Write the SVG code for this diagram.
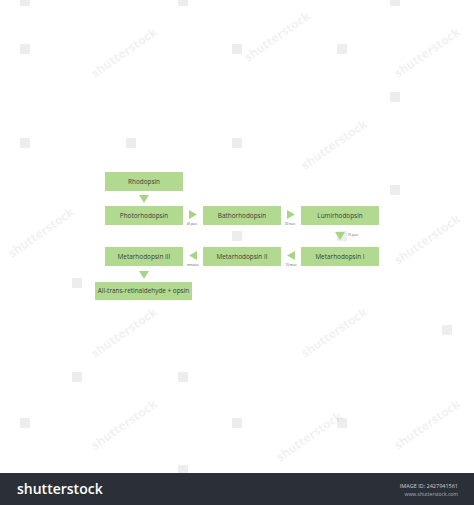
<svg xmlns="http://www.w3.org/2000/svg" width="474" height="505" viewBox="0 0 474 505">
<style>
.box{fill:#b1d98f}
.lbl{font-family:"Open Sans","Liberation Sans",sans-serif;font-size:6.4px;fill:#3a3a3a;text-anchor:middle}
.tm{font-family:"Open Sans","Liberation Sans",sans-serif;font-size:3px;fill:#555;text-anchor:middle}
.tri{fill:#a9d486}
.wm{font-family:"Open Sans","Liberation Sans",sans-serif;font-size:12px;font-weight:bold;fill:#000;opacity:0.05}
.sq{fill:#000;opacity:0.07}
</style>
<rect width="474" height="505" fill="#ffffff"/>
<g id="watermarks">
<text class="wm" transform="translate(95,78) rotate(-35)">shutterstock</text>
<text class="wm" transform="translate(248,62) rotate(-35)">shutterstock</text>
<text class="wm" transform="translate(398,78) rotate(-35)">shutterstock</text>
<text class="wm" transform="translate(305,170) rotate(-35)">shutterstock</text>
<text class="wm" transform="translate(12,258) rotate(-35)">shutterstock</text>
<text class="wm" transform="translate(398,265) rotate(-35)">shutterstock</text>
<text class="wm" transform="translate(95,358) rotate(-35)">shutterstock</text>
<text class="wm" transform="translate(305,358) rotate(-35)">shutterstock</text>
<text class="wm" transform="translate(95,450) rotate(-35)">shutterstock</text>
<text class="wm" transform="translate(280,462) rotate(-35)">shutterstock</text>
<text class="wm" transform="translate(398,450) rotate(-35)">shutterstock</text>
<rect class="sq" x="20" y="44" width="10" height="10"/>
<rect class="sq" x="232" y="44" width="10" height="10"/>
<rect class="sq" x="337" y="44" width="10" height="10"/>
<rect class="sq" x="126" y="138" width="10" height="10"/>
<rect class="sq" x="232" y="138" width="10" height="10"/>
<rect class="sq" x="390" y="92" width="10" height="10"/>
<rect class="sq" x="20" y="138" width="10" height="10"/>
<rect class="sq" x="390" y="185" width="10" height="10"/>
<rect class="sq" x="232" y="231" width="10" height="10"/>
<rect class="sq" x="337" y="231" width="10" height="10"/>
<rect class="sq" x="72" y="278" width="10" height="10"/>
<rect class="sq" x="442" y="325" width="10" height="10"/>
<rect class="sq" x="72" y="372" width="10" height="10"/>
<rect class="sq" x="178" y="372" width="10" height="10"/>
<rect class="sq" x="20" y="418" width="10" height="10"/>
<rect class="sq" x="232" y="418" width="10" height="10"/>
<rect class="sq" x="337" y="418" width="10" height="10"/>
<rect class="sq" x="178" y="465" width="10" height="8"/>
<rect class="sq" x="20" y="0" width="10" height="6"/>
<rect class="sq" x="178" y="0" width="10" height="6"/>
<rect class="sq" x="390" y="0" width="10" height="6"/>
</g>
<g id="connectors">
<polygon class="tri" points="139,195 149,195 144,203"/>
<polygon class="tri" points="189,210 197,214.5 189,219"/>
<text class="tm" x="192" y="225">45 psec</text>
<polygon class="tri" points="287,210 295,214.5 287,219"/>
<text class="tm" x="290" y="225">30 nsec</text>
<polygon class="tri" points="335,232 345,232 340,240"/>
<text class="tm" x="353" y="236">75 µsec</text>
<polygon class="tri" points="295,251 287,255.5 295,260"/>
<text class="tm" x="291" y="266">10 msec</text>
<polygon class="tri" points="197,251 189,255.5 197,260"/>
<text class="tm" x="193" y="266">minutes</text>
<polygon class="tri" points="139,271 149,271 144,279"/>
</g>
<g id="rhodopsin"><rect class="box" x="105" y="172" width="78" height="19"/><text class="lbl" x="144" y="183.8">Rhodopsin</text></g>
<g id="photorhodopsin"><rect class="box" x="105" y="206" width="78" height="19"/><text class="lbl" x="144" y="217.8">Photorhodopsin</text></g>
<g id="bathorhodopsin"><rect class="box" x="203" y="206" width="78" height="19"/><text class="lbl" x="242" y="217.8">Bathorhodopsin</text></g>
<g id="lumirhodopsin"><rect class="box" x="301" y="206" width="78" height="19"/><text class="lbl" x="340" y="217.8">Lumirhodopsin</text></g>
<g id="metarhodopsin1"><rect class="box" x="301" y="247" width="78" height="19"/><text class="lbl" x="340" y="258.8">Metarhodopsin I</text></g>
<g id="metarhodopsin2"><rect class="box" x="203" y="247" width="78" height="19"/><text class="lbl" x="242" y="258.8">Metarhodopsin II</text></g>
<g id="metarhodopsin3"><rect class="box" x="105" y="247" width="78" height="19"/><text class="lbl" x="144" y="258.8">Metarhodopsin III</text></g>
<g id="alltrans"><rect class="box" x="95" y="282" width="97" height="18"/><text class="lbl" x="143.5" y="293.3">All-trans-retinaldehyde + opsin</text></g>
<g id="footer">
<rect x="0" y="473" width="474" height="32" fill="#2b2f38"/>
<text x="17" y="494" font-family="'Open Sans','Liberation Sans',sans-serif" font-size="14" font-weight="600" fill="#ffffff">shutterstock</text>
<text x="458" y="488" font-family="'Open Sans','Liberation Sans',sans-serif" font-size="5.5" fill="#d0d0d0" text-anchor="end">IMAGE ID: 2427941561</text>
<text x="458" y="496" font-family="'Open Sans','Liberation Sans',sans-serif" font-size="5" fill="#b0b0b0" text-anchor="end">www.shutterstock.com</text>
</g>
</svg>
